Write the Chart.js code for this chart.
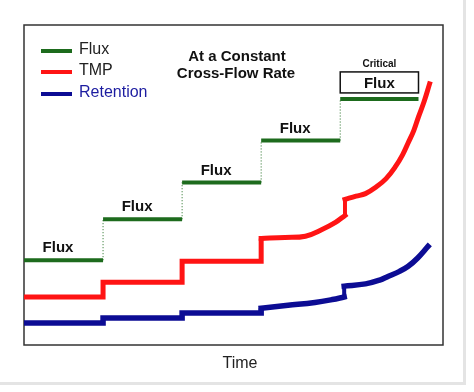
<!DOCTYPE html>
<html>
<head>
<meta charset="utf-8">
<script src="https://cdn.jsdelivr.net/npm/chart.js@4.4.1/dist/chart.umd.min.js"></script>
<style>
  html, body { margin: 0; padding: 0; background: #fff; }
  #wrap { position: relative; width: 474px; height: 392px; }
  #frame { position: absolute; left: 0; top: 0; width: 463px; height: 382px;
           border-right: 3px solid #e4e4e4; border-bottom: 3px solid #e4e4e4; }
  canvas { position: absolute; left: 0; top: 0; }
</style>
</head>
<body>
<div id="wrap">
  <div id="frame"></div>
  <canvas id="myChart" width="474" height="392"></canvas>
</div>
<script>
  // Flux steps (time in step units, level in % of plot height)
  const fluxStarts = [0, 1, 2, 3, 4];
  const fluxEnds = [1, 2, 3, 4, 4.99];
  const fluxLevels = [26.5, 39.3, 50.8, 63.9, 76.9];

  // TMP: flat steps, then two curved parts with a jump between
  const tmpStepX = [0, 1, 1, 2, 2, 3, 3];
  const tmpStepY = [15.0, 15.0, 19.6, 19.6, 26.2, 26.2, 33.3];
  const tmpCurve1X = [3, 3.3, 3.56, 3.77, 3.94, 4.06];
  const tmpCurve1Y = [33.3, 33.6, 34.0, 36.1, 38.3, 40.5];
  const tmpCurve2X = [4.06, 4.2, 4.32, 4.45, 4.58, 4.7, 4.79, 4.86, 4.93, 4.99, 5.06, 5.13];
  const tmpCurve2Y = [45.5, 46.5, 47.3, 49.3, 52.0, 55.8, 59.5, 63.2, 67.0, 71.3, 76.0, 81.6];

  // Retention
  const retStepX = [0, 1, 1, 2, 2, 3, 3];
  const retStepY = [6.9, 6.9, 8.4, 8.4, 10.0, 10.0, 11.5];
  const retCurve1X = [3, 3.34, 3.68, 3.9, 4.05];
  const retCurve1Y = [11.5, 12.4, 13.3, 14.2, 15.0];
  const retCurve2X = [4.05, 4.32, 4.5, 4.61, 4.75, 4.86, 4.98, 5.11];
  const retCurve2Y = [18.4, 19.1, 20.3, 21.5, 23.0, 24.6, 27.2, 30.8];

  const legendLabels = ['Flux', 'TMP', 'Retention'];
  const legendTextColors = ['#222', '#222', '#1c1ca0'];

  const green = '#1d6b1d';
  const red = '#ff1414';
  const blue = '#0c0c94';

  const pts = (xs, ys) => xs.map((x, i) => ({x: x, y: ys[i]}));

  // flux flat parts and dotted risers, broken with null gaps
  const fluxPts = [];
  const fluxRisers = [];
  fluxStarts.forEach((s, i) => {
    fluxPts.push({x: s, y: fluxLevels[i]}, {x: fluxEnds[i], y: fluxLevels[i]}, {x: fluxEnds[i], y: null});
    if (i > 0) {
      fluxRisers.push({x: s, y: fluxLevels[i - 1]}, {x: s, y: fluxLevels[i]}, {x: s, y: null});
    }
  });

  // jump between the two curved parts
  const jump = (c1x, c1y, c2x, c2y) => [
    {x: c1x[c1x.length - 1], y: c1y[c1y.length - 1]},
    {x: c2x[0], y: c2y[0]}
  ];

  const annotations = {
    id: 'annotations',
    beforeDatasetsDraw(chart) {
      const {ctx, chartArea: a} = chart;
      ctx.save();
      ctx.strokeStyle = '#333';
      ctx.lineWidth = 1.5;
      ctx.strokeRect(a.left, a.top, a.right - a.left, a.bottom - a.top);
      ctx.restore();
    },
    afterDatasetsDraw(chart) {
      const {ctx, scales: {x, y}} = chart;
      ctx.save();
      ctx.textAlign = 'center';
      ctx.textBaseline = 'middle';
      ctx.fillStyle = '#111';

      // step labels
      ctx.font = 'bold 15px "Liberation Sans", Arial, sans-serif';
      for (let i = 0; i < 4; i++) {
        ctx.fillText('Flux', x.getPixelForValue(fluxStarts[i] + 0.43), y.getPixelForValue(fluxLevels[i]) - 12);
      }

      // critical flux box
      const bl = x.getPixelForValue(fluxStarts[4]);
      const br = x.getPixelForValue(fluxEnds[4]);
      const bb = y.getPixelForValue(fluxLevels[4]) - 6;
      const bt = bb - 21;
      ctx.strokeStyle = '#111';
      ctx.lineWidth = 1.5;
      ctx.strokeRect(bl, bt, br - bl, bb - bt);
      ctx.fillText('Flux', (bl + br) / 2, (bt + bb) / 2 + 1);
      ctx.font = 'bold 10px "Liberation Sans", Arial, sans-serif';
      ctx.fillText('Critical', (bl + br) / 2, bt - 8);

      // title
      ctx.font = 'bold 15px "Liberation Sans", Arial, sans-serif';
      ctx.fillText('At a Constant', 237, 57);
      ctx.fillText('Cross-Flow Rate', 236, 74);

      // legend
      const rows = [51, 72, 94];
      const cols = [green, red, blue];
      ctx.font = '16px "Liberation Sans", Arial, sans-serif';
      ctx.textAlign = 'left';
      legendLabels.forEach((t, i) => {
        ctx.strokeStyle = cols[i];
        ctx.lineWidth = 4;
        ctx.beginPath();
        ctx.moveTo(41, rows[i]);
        ctx.lineTo(72, rows[i]);
        ctx.stroke();
        ctx.fillStyle = legendTextColors[i];
        ctx.fillText(t, 79, rows[i] - 1);
      });

      // axis title
      ctx.textAlign = 'center';
      ctx.fillStyle = '#222';
      ctx.font = '16px "Liberation Sans", Arial, sans-serif';
      ctx.fillText('Time', 240, 364);
      ctx.restore();
    }
  };

  const curve = { tension: 0.4, borderCapStyle: 'square' };

  const ctx = document.getElementById('myChart').getContext('2d');
  const myChart = new Chart(ctx, {
    type: 'line',
    data: {
      datasets: [
        { label: 'Flux', data: fluxPts, borderColor: green, borderWidth: 4, spanGaps: false },
        { label: '', data: fluxRisers, borderColor: green, borderWidth: 1, borderDash: [1, 2], spanGaps: false },
        { label: 'TMP', data: pts(tmpStepX, tmpStepY), borderColor: red, borderWidth: 5 },
        { label: '', data: pts(tmpCurve1X, tmpCurve1Y), borderColor: red, borderWidth: 5, ...curve },
        { label: '', data: jump(tmpCurve1X, tmpCurve1Y, tmpCurve2X, tmpCurve2Y), borderColor: red, borderWidth: 4 },
        { label: '', data: pts(tmpCurve2X, tmpCurve2Y), borderColor: red, borderWidth: 5, ...curve },
        { label: 'Retention', data: pts(retStepX, retStepY), borderColor: blue, borderWidth: 5.5 },
        { label: '', data: pts(retCurve1X, retCurve1Y), borderColor: blue, borderWidth: 5.5, ...curve },
        { label: '', data: jump(retCurve1X, retCurve1Y, retCurve2X, retCurve2Y), borderColor: blue, borderWidth: 4 },
        { label: '', data: pts(retCurve2X, retCurve2Y), borderColor: blue, borderWidth: 5.5, ...curve }
      ]
    },
    options: {
      responsive: false,
      animation: false,
      elements: {
        point: { radius: 0 },
        line: { tension: 0, fill: false, borderJoinStyle: 'miter', borderCapStyle: 'butt' }
      },
      layout: { padding: { left: 24, top: 25, right: 31, bottom: 47 } },
      plugins: { legend: { display: false }, tooltip: { enabled: false } },
      scales: {
        x: { type: 'linear', min: 0, max: 5.3, display: false },
        y: { min: 0, max: 100, display: false }
      }
    },
    plugins: [annotations]
  });
</script>
</body>
</html>
